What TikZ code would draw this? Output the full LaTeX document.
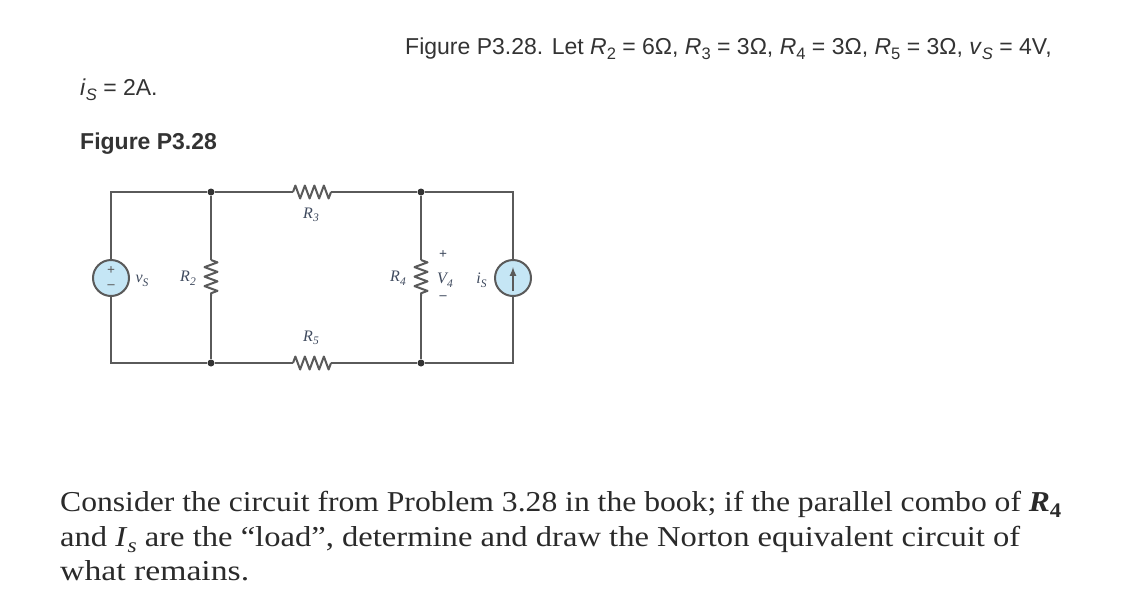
\documentclass[tikz,border=0pt]{standalone}
\usepackage{fontspec}
\setmainfont{Liberation Serif}
\newfontfamily\arialf{Liberation Sans}
\newfontfamily\bodyf[FakeStretch=1.098]{Liberation Serif}
\newfontfamily\bodyh[FakeStretch=1.132]{Liberation Serif}
\newfontfamily\bodyg[FakeStretch=1.17]{Liberation Serif}
\usetikzlibrary{decorations.pathmorphing}
\definecolor{wirec}{HTML}{5A5A5A}
\definecolor{srcfill}{HTML}{C5E6F5}
\definecolor{labc}{HTML}{3F4A5E}
\definecolor{headc}{HTML}{333333}
\definecolor{bodyc}{HTML}{2A2A2A}
\newcommand{\lowtxt}[1]{\raisebox{-0.22em}{\scalebox{0.72}{#1}}}
\tikzset{
  x=1pt,y=-1pt,
  wire/.style={draw=wirec,line width=2pt},
  junct/.style={circle,fill=black!80,inner sep=0pt,minimum size=7pt},
  srcnode/.style={circle,draw=wirec,line width=2pt,fill=srcfill,inner sep=0pt,minimum size=36pt},
  resv/.style={wire,line join=round,decoration={zigzag,segment length=9.5pt,amplitude=6.5pt},decorate},
  clab/.style={text=labc,font=\fontsize{16}{16}\selectfont\itshape,inner sep=0pt},
  sanstext/.style={anchor=base west,inner sep=0pt,text=headc,font=\arialf\fontsize{23}{25}\selectfont},
  bodytext/.style={anchor=base west,inner sep=0pt,text=bodyc,font=\bodyf\fontsize{28.8}{30}\selectfont},
  bodymid/.style={bodytext,font=\bodyh\fontsize{28.8}{30}\selectfont},
  bodywide/.style={bodytext,font=\bodyg\fontsize{28.8}{30}\selectfont},
  signmark/.style={inner sep=0pt,font=\fontsize{14}{14}\selectfont\bfseries}
}
\begin{document}
\begin{tikzpicture}
\useasboundingbox[fill=white] (0,0) rectangle (1147,614);
% texts
\node[sanstext] (t1) at (405,54.5) {Figure P3.28. Let \textit{R}\lowtxt{2} = 6Ω, \textit{R}\lowtxt{3} = 3Ω, \textit{R}\lowtxt{4} = 3Ω, \textit{R}\lowtxt{5} = 3Ω, \textit{v}\lowtxt{\textit{S}} = 4V,};
\node[sanstext] (t2) at (80,95) {\textit{i}\lowtxt{\textit{S}} = 2A.};
\node[sanstext,font=\arialf\bfseries\fontsize{23}{25}\selectfont] (t3) at (80,149) {Figure P3.28};
\node[bodytext] (b1) at (60,511) {Consider the circuit from Problem 3.28 in the book; if the parallel combo of \textit{\textbf{R}}\lowtxt{\textbf{4}}};
\node[bodymid] (b2) at (60,546) {and \textit{I}\lowtxt{\textit{s}} are the “load”, determine and draw the Norton equivalent circuit of};
\node[bodywide] (b3) at (60,580) {what remains.};
% circuit nodes
\coordinate (tl) at (111,192);
\coordinate (bl) at (111,363);
\coordinate (tr) at (513,192);
\coordinate (br) at (513,363);
\node[junct] (n1) at (211,192) {};
\node[junct] (n2) at (211,363) {};
\node[junct] (n3) at (421,192) {};
\node[junct] (n4) at (421,363) {};
\coordinate (r2a) at (211,260); \coordinate (r2b) at (211,296);
\coordinate (r4a) at (421,260); \coordinate (r4b) at (421,296);
\coordinate (r3a) at (293,192); \coordinate (r3b) at (331,192);
\coordinate (r5a) at (293,363); \coordinate (r5b) at (331,363);
\node[srcnode] (vs) at (111,278) {};
\node[srcnode] (is) at (513,278) {};
% wires
\draw[wire] (vs) -- (tl) -- (n1) -- (r3a);
\draw[wire] (vs) -- (bl) -- (n2) -- (r5a);
\draw[wire] (r3b) -- (n3) -- (tr) -- (is);
\draw[wire] (r5b) -- (n4) -- (br) -- (is);
\draw[wire] (n1) -- (r2a); \draw[wire] (r2b) -- (n2);
\draw[wire] (n3) -- (r4a); \draw[wire] (r4b) -- (n4);
\draw[resv] (r2a) -- (r2b);
\draw[resv] (r4a) -- (r4b);
\draw[resv] (r3a) -- (r3b);
\draw[resv] (r5a) -- (r5b);
% source marks
\node[signmark,text=wirec] (plus) at (111,270.5) {+};
\node[signmark,text=wirec] (minus) at (111,287) {--};
\coordinate (ia) at (513,291); \coordinate (ib) at (513,267);
\draw[wire,-{latex}] (ia) -- (ib);
% labels
\node[clab] (lvs) at (142,281) {v\lowtxt{S}};
\node[clab] (lr2) at (188,278) {R\lowtxt{2}};
\node[clab] (lr3) at (311,215) {R\lowtxt{3}};
\node[clab] (lr5) at (311,338) {R\lowtxt{5}};
\node[clab] (lr4) at (398,278) {R\lowtxt{4}};
\node[clab] (lv4) at (445,280) {V\lowtxt{4}};
\node[signmark,text=labc] (vp) at (443,255) {+};
\node[signmark,text=labc] (vm) at (443,298) {--};
\node[clab] (lis) at (481.5,280) {i\lowtxt{S}};
\end{tikzpicture}
\end{document}
